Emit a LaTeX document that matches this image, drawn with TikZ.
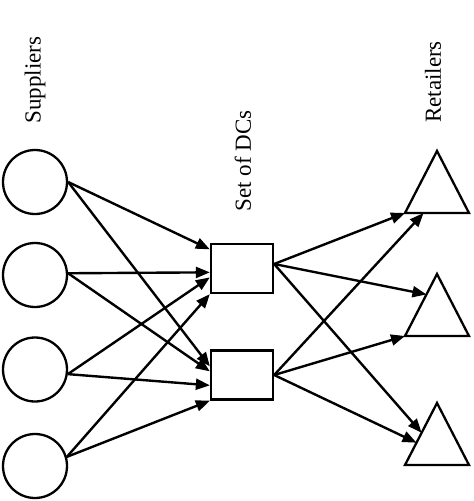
\documentclass[tikz,border=0pt]{standalone}
\usepackage{fontspec}
\setmainfont{Liberation Serif}
\usetikzlibrary{arrows.meta,calc}
\begin{document}
\begin{tikzpicture}[x=1pt,y=-1pt,
  shp/.style={draw=black,line width=2.3pt,fill=white,inner sep=0pt},
  supplier/.style={shp,circle,minimum size=64pt},
  dcbox/.style={shp,rectangle,minimum width=62pt,minimum height=49pt},
  tri/.style={draw=black,line width=2.3pt,line join=miter},
  flow/.style={line width=2.4pt,-{Triangle[length=14pt,width=11pt]}},
  lbl/.style={font=\fontsize{23}{28}\selectfont,rotate=90,inner sep=0pt}
]
\useasboundingbox (0,0) rectangle (474,501);
% labels
\node[lbl] (ls) at (35,80) {Suppliers};
\node[lbl] (ld) at (243,161) {Set of DCs};
\node[lbl] (lr) at (433,82) {Retailers};
% suppliers
\node[supplier] (c1) at (35,182) {};
\node[supplier] (c2) at (35,275) {};
\node[supplier] (c3) at (35,369.5) {};
\node[supplier] (c4) at (35,466) {};
% DCs
\node[dcbox] (d1) at (242,268.5) {};
\node[dcbox] (d2) at (242,375) {};
% retailers
\coordinate (t1a) at (437,151); \coordinate (t1l) at (405,213); \coordinate (t1r) at (469,213);
\coordinate (t2a) at (437,274); \coordinate (t2l) at (405,336); \coordinate (t2r) at (469,336);
\coordinate (t3a) at (437,403); \coordinate (t3l) at (405,465); \coordinate (t3r) at (469,465);
\draw[tri] (t1l) -- (t1a) -- (t1r) -- cycle;
\draw[tri] (t2l) -- (t2a) -- (t2r) -- cycle;
\draw[tri] (t3l) -- (t3a) -- (t3r) -- cycle;
% supplier -> DC
\draw[flow] (c1.east) -- ([yshift=-6.5pt]d1.north west);
\draw[flow] (c1.east) -- ([yshift=-17pt]d2.north west);
\draw[flow] (c2.3) -- ([yshift=-29.5pt]d1.north west);
\draw[flow] (c2.3) -- ([yshift=-22pt]d2.north west);
\draw[flow] (c3.-8) -- ([yshift=-34.5pt]d1.north west);
\draw[flow] (c3.-8) -- ([yshift=-36pt]d2.north west);
\draw[flow] (c4.16) -- (d1.south west);
\draw[flow] (c4.16) -- (d2.south west);
% DC -> retailer
\draw[flow] ([yshift=4.5pt]d1.east) -- (t1l);
\draw[flow] ([yshift=4.5pt]d1.east) -- ($(t2l)!0.67!(t2a)$);
\draw[flow] ([yshift=4.5pt]d1.east) -- ($(t3l)!0.52!(t3a)$);
\draw[flow] (d2.east) -- ($(t1l)!0.29!(t1r)$);
\draw[flow] (d2.east) -- (t2l);
\draw[flow] (d2.east) -- ($(t3l)!0.36!(t3a)$);
\end{tikzpicture}
\end{document}
